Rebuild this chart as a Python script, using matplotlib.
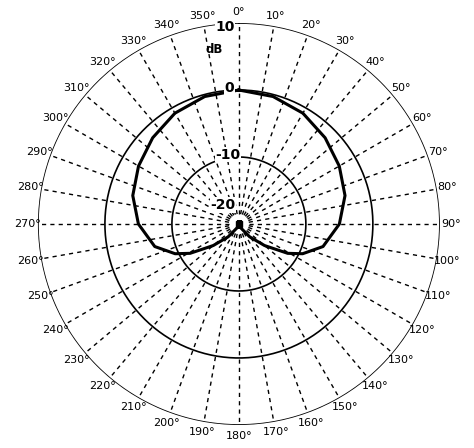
import numpy as np
import matplotlib.pyplot as plt

# polar response (dB), symmetric about 0 deg
ang_deg = [0, 15, 30, 45, 60, 75, 90, 105, 115, 121, 130, 140, 160, 180]
level_db = [0, -0.3, -0.9, -1.8, -2.7, -3.6, -5, -7, -9.5, -11.5, -15, -17.5, -19.5, -20]
ring_db = [-10, 0, 10]
ring_labels = ['-20', '-10', '0', '10']

a = np.array(ang_deg + [360 - x for x in ang_deg[::-1]])
v = np.array(level_db + level_db[::-1])

fig = plt.figure(figsize=(4.74, 4.48), dpi=100)
ax = fig.add_axes([0.080, 0.045, 0.848, 0.91], projection='polar')
ax.set_theta_zero_location('N')
ax.set_theta_direction(-1)
ax.set_ylim(-20, 10)
ax.grid(False)
ax.set_xticks([])
ax.set_yticks([])
ax.spines['polar'].set_visible(False)

th = np.linspace(0, 2 * np.pi, 400)
for r in ring_db:
    ax.plot(th, np.full_like(th, r), color='black', lw=1.2)

for d in range(0, 360, 10):
    t = np.deg2rad(d)
    ax.plot([t, t], [-18.5, 10], color='black', lw=1, ls=(0, (3, 3)))
    ax.text(t, 11.6, f'{d}°', ha='center', va='center', fontsize=8)

ax.plot(np.deg2rad(a), v, color='black', lw=2.2)
ax.plot([0], [-20], marker='s', color='black', ms=5)

# ring labels along the 0 deg ray: (angle, radius)
label_pos = [(-40, -16.3), (-9, -9.5), (-4, 0.3), (-4, 9.5)]
for lab, (ang, r) in zip(ring_labels, label_pos):
    ax.text(np.deg2rad(ang), r, lab, ha='center', va='center', fontsize=10,
            fontweight='bold', bbox=dict(facecolor='white', edgecolor='none', pad=0.5))
ax.text(np.deg2rad(-8), 6.3, 'dB', ha='center', va='center', fontsize=8.5, fontweight='bold')

fig.savefig('out.png', dpi=100)
